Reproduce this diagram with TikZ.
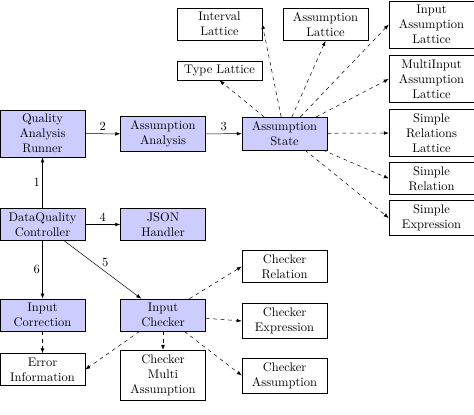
\documentclass[tikz,border=0pt]{standalone}
\usetikzlibrary{arrows.meta}
\begin{document}
\begin{tikzpicture}[x=0.8pt,y=-0.8pt,
  box/.style={draw, align=center, minimum width=68pt, inner sep=3.33pt},
  bluebox/.style={box, fill=blue!20},
  solidarrow/.style={-{Latex[length=4pt,width=3pt]}},
  dasharrow/.style={dashed, -{Latex[length=4pt,width=3pt]}},
  lbl/.style={inner sep=2pt}
]
\useasboundingbox (0,0) rectangle (474,414);
% blue nodes
\node[bluebox] (qar) at (42.5,133.5) {Quality\\Analysis\\Runner};
\node[bluebox] (aa) at (163,134) {Assumption\\Analysis};
\node[bluebox] (as) at (284.5,133.5) {Assumption\\State};
\node[bluebox] (dqc) at (42.5,224.5) {DataQuality\\Controller};
\node[bluebox] (json) at (163,224.5) {JSON\\Handler};
\node[bluebox] (icorr) at (42.5,315) {Input\\Correction};
\node[bluebox] (ichk) at (163,315) {Input\\Checker};
% white nodes
\node[box] (ei) at (42.5,369.5) {Error\\Information};
\node[box] (cma) at (163,375) {Checker\\Multi\\Assumption};
\node[box] (cr) at (284.5,266.5) {Checker\\Relation};
\node[box] (ce) at (284.5,321) {Checker\\Expression};
\node[box] (ca) at (284.5,375.5) {Checker\\Assumption};
\node[box] (il) at (219.5,24) {Interval\\Lattice};
\node[box] (tl) at (219.5,70.5) {Type Lattice};
\node[box] (al) at (325.5,24.5) {Assumption\\Lattice};
\node[box] (ial) at (431.5,24.5) {Input\\Assumption\\Lattice};
\node[box] (mial) at (431.5,79) {MultiInput\\Assumption\\Lattice};
\node[box] (srl) at (431.5,133) {Simple\\Relations\\Lattice};
\node[box] (sr) at (431.5,178.5) {Simple\\Relation};
\node[box] (se) at (431.5,218) {Simple\\Expression};
% solid arrows
\draw[solidarrow] (dqc) -- node[lbl,left] {1} (qar);
\draw[solidarrow] (qar) -- node[lbl,above] {2} (aa);
\draw[solidarrow] (aa) -- node[lbl,above] {3} (as);
\draw[solidarrow] (dqc) -- node[lbl,above] {4} (json);
\draw[solidarrow] (dqc) -- node[lbl,above,xshift=2pt] {5} (ichk);
\draw[solidarrow] (dqc) -- node[lbl,left] {6} (icorr);
% dashed arrows from Assumption State
\draw[dasharrow] (as) -- (il.east);
\draw[dasharrow] (as) -- (tl.south);
\draw[dasharrow] (as) -- (al.south);
\draw[dasharrow] (as) -- (ial.west);
\draw[dasharrow] (as) -- (mial.west);
\draw[dasharrow] (as) -- (srl.west);
\draw[dasharrow] (as) -- (sr.west);
\draw[dasharrow] (as) -- (se.west);
% dashed arrows from checkers
\draw[dasharrow] (ichk) -- (cr.west);
\draw[dasharrow] (ichk) -- (ce.west);
\draw[dasharrow] (ichk) -- (ca.west);
\draw[dasharrow] (ichk) -- (cma.north);
\draw[dasharrow] (ichk) -- (ei.east);
\draw[dasharrow] (icorr) -- (ei.north);
\end{tikzpicture}
\end{document}
